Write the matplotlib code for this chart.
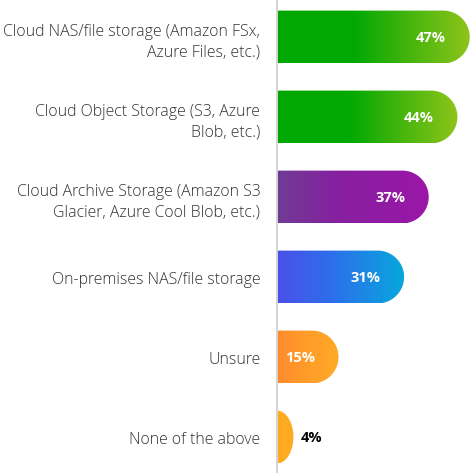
import numpy as np
import matplotlib
matplotlib.use("Agg")
import matplotlib.pyplot as plt
from matplotlib.path import Path
from matplotlib.patches import PathPatch
from matplotlib.colors import LinearSegmentedColormap

categories = [
    "Cloud NAS/file storage (Amazon FSx,\nAzure Files, etc.)",
    "Cloud Object Storage (S3, Azure\nBlob, etc.)",
    "Cloud Archive Storage (Amazon S3\nGlacier, Azure Cool Blob, etc.)",
    "On-premises NAS/file storage",
    "Unsure",
    "None of the above",
]
values = [47, 44, 37, 31, 15, 4]
value_labels = ["47%", "44%", "37%", "31%", "15%", "4%"]
gradients = [
    ["#02a802", "#02a802", "#8ec41a"],
    ["#02a802", "#02a802", "#8ec41a"],
    ["#6f3c94", "#86209f", "#9b16a8"],
    ["#4b50e8", "#2f6cec", "#06a8dc"],
    ["#ff8a2e", "#ff9a2a", "#ffaa26"],
    ["#ffab22", "#ffab22", "#ffab22"],
]
label_colors = ["white", "white", "white", "white", "white", "black"]

plt.rcParams['font.family'] = ['Open Sans', 'DejaVu Sans']

fig = plt.figure(figsize=(4.74, 4.77), dpi=100)
W, H = 474, 477
ax = fig.add_axes([277 / W, 0, 1 - 277 / W, 1])
px_per_unit = 4.1
ax.set_xlim(0, (W - 277) / px_per_unit)
ax.set_ylim(5 + 39 / 80, -38 / 80)

for s in ["top", "right", "bottom"]:
    ax.spines[s].set_visible(False)
ax.spines["left"].set_color("#d4d4d4")
ax.spines["left"].set_linewidth(1.4)
ax.spines["left"].set_bounds(5 + 35 / 80, -38 / 80)
ax.set_xticks([])
ax.set_yticks(range(len(categories)))
ax.set_yticklabels(categories, fontsize=11.4, fontweight="light", color="#333333",
                   linespacing=1.35, ha="right", multialignment="right")
ax.tick_params(axis="y", length=0, pad=12)

fig.canvas.draw()
sx = ax.transData.transform((1, 0))[0] - ax.transData.transform((0, 0))[0]
sy = abs(ax.transData.transform((0, 1))[1] - ax.transData.transform((0, 0))[1])
bh = 0.66
ry = bh / 2
rpx = ry * sy
rx0 = rpx / sx

for i, (v, cols) in enumerate(zip(values, gradients)):
    y = i
    rx = min(rx0, v)
    xs = v - rx
    t = np.linspace(-np.pi / 2, np.pi / 2, 60)
    arc = np.column_stack([xs + rx * np.cos(t), y + ry * np.sin(t)])
    verts = [(0, y - ry), (xs, y - ry)] + [tuple(p) for p in arc] + [(0, y + ry), (0, y - ry)]
    codes = [Path.MOVETO] + [Path.LINETO] * (len(verts) - 2) + [Path.CLOSEPOLY]
    patch = PathPatch(Path(verts, codes), facecolor="none", edgecolor="none")
    ax.add_patch(patch)
    cmap = LinearSegmentedColormap.from_list(f"g{i}", list(zip([0, 0.4, 1], cols)))
    grad = np.linspace(0, 1, 256).reshape(1, -1)
    im = ax.imshow(grad, cmap=cmap, aspect="auto",
                   extent=(0, v, y + ry, y - ry), zorder=2, interpolation="bilinear")
    im.set_clip_path(patch)

    if label_colors[i] == "white":
        ax.annotate(value_labels[i], (v, y), xytext=(-17, 0), textcoords="offset points",
                    ha="right", va="center", fontsize=10.5, fontweight="bold",
                    color="white", zorder=3)
    else:
        ax.annotate(value_labels[i], (v, y), xytext=(5, 0), textcoords="offset points",
                    ha="left", va="center", fontsize=10.5, fontweight="bold",
                    color="black", zorder=3)

ax.set_xlim(0, (W - 277) / px_per_unit)
ax.set_ylim(5 + 39 / 80, -38 / 80)
fig.savefig("out.png", dpi=100)
